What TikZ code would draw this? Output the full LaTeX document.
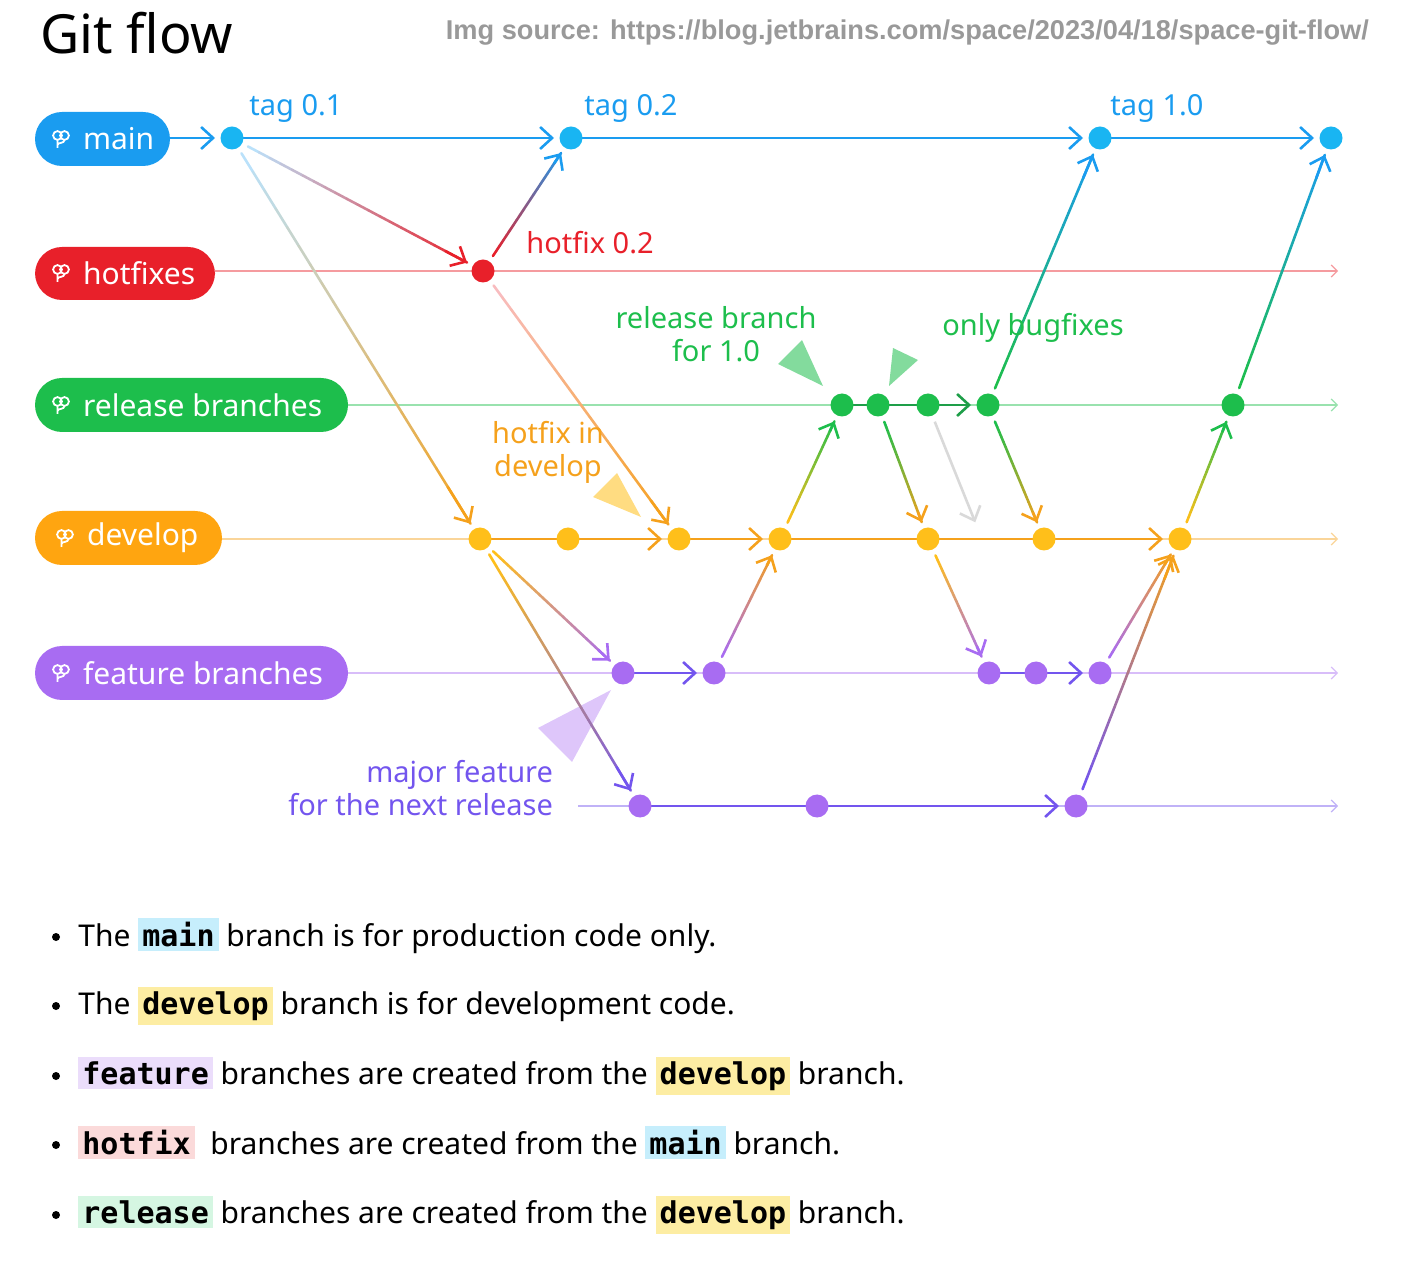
\documentclass[tikz,border=0pt]{standalone}
\usepackage{fontspec}
\setmainfont{Noto Sans}
\newfontfamily\monof{DejaVu Sans Mono}
\newfontfamily\srcf{Liberation Sans}
\usetikzlibrary{arrows.meta,calc}
\definecolor{cblue}{HTML}{1A9CF0}
\definecolor{cdot}{HTML}{19B5F2}
\definecolor{cred}{HTML}{E8202A}
\definecolor{cgreen}{HTML}{1DBE4C}
\definecolor{cdgreen}{HTML}{1E9E48}
\definecolor{corange}{HTML}{F5A11C}
\definecolor{cyel}{HTML}{FFBF1A}
\definecolor{cpurp}{HTML}{A86CF2}
\definecolor{cviol}{HTML}{7355EE}
\definecolor{hlblue}{HTML}{C6EEFC}
\definecolor{hlyel}{HTML}{FDEDA3}
\definecolor{hlpur}{HTML}{EBDDFB}
\definecolor{hlred}{HTML}{FBDADA}
\definecolor{hlgrn}{HTML}{D5F6E2}
\tikzset{
 tip/.style={-{Straight Barb[length=6pt,width=11pt,line width=1.3pt]}},
 dot/.style={circle,fill=#1,inner sep=0pt,minimum size=11.5pt},
 lane/.style={#1!45,line width=0.6pt,-{Straight Barb[length=3pt,width=6pt]}},
 hl/.style={#1,line width=1.3pt},
 lab/.style={font=\fontsize{14.5}{16.5}\selectfont,align=center,text=#1},
 pilltext/.style={anchor=west,text=white,font=\fontsize{15}{15}\selectfont},
 wedge/.style={fill=#1,opacity=0.55},
}
\newcommand\grad[4]{%
 \colorlet{ga}{#1}\colorlet{gb}{#2}%
 \path ($(#3)!9pt!(#4)$) coordinate (gs) ($(#4)!9pt!(#3)$) coordinate (ge);
 \foreach \i in {0,...,19}{\pgfmathtruncatemacro\p{100-\i*5}
  \draw[ga!\p!gb,line width=1.3pt,line cap=round] ($(gs)!\i/20!(ge)$) -- ($(gs)!{(\i+1)/20}!(ge)$);}
 \draw[tip,gb,line width=1.3pt] ($(gs)!0.9!(ge)$) -- (ge);}
\newcommand\harr[3]{\draw[hl=#1,tip] (#2) -- ($(#3)!8.5pt!(#2)$);}
\newcommand\icon[1]{\begin{scope}[shift={(#1)},white,line width=0.9pt]
 \draw (-3.5,-3.5) circle (2.2pt) (3.5,-3.5) circle (2.2pt);
 \draw (-3.5,0.8) -- (-3.5,9) (3.5,0.8) .. controls (3.5,5) and (-3.5,3) .. (-3.5,6);
 \end{scope}}
\begin{document}
\begin{tikzpicture}[x=0.5pt,y=-0.5pt]
\useasboundingbox (0,0) rectangle (1410,1262);
\node[anchor=west,font=\fontsize{27}{27}\selectfont] (title) at (33,33) {Git flow};
\node[anchor=east,font=\srcf\bfseries\fontsize{13.6}{14}\selectfont,text=black!40] (src) at (1376,33) {Img source: https://blog.jetbrains.com/space/2023/04/18/space-git-flow/};
% pills
\fill[cblue,rounded corners=13.5pt] (35,112) rectangle (170,166); \node[pilltext] (pmain) at (76,139) {main};
\fill[cred,rounded corners=13.5pt] (35,247) rectangle (215,300); \node[pilltext] (phot) at (76,273) {hotfixes};
\fill[cgreen,rounded corners=13.5pt] (35,378) rectangle (348,432); \node[pilltext] (prel) at (76,405) {release branches};
\fill[cyel!60!orange,rounded corners=13.5pt] (35,511) rectangle (222,565); \node[pilltext] (pdev) at (80,538) {develop};
\fill[cpurp,rounded corners=13.5pt] (35,646) rectangle (348,700); \node[pilltext] (pfeat) at (76,673) {feature branches};
\icon{61,139}\icon{61,273}\icon{61,405}\icon{65,538}\icon{61,673}
\coordinate (pm) at (170,138); \coordinate (ph) at (215,271); \coordinate (pr) at (348,405);
\coordinate (pd) at (222,539); \coordinate (pf) at (348,673); \coordinate (pj) at (578,806);
\coordinate (eh) at (1338,271); \coordinate (er) at (1338,405); \coordinate (ed) at (1338,539);
\coordinate (ef) at (1338,673); \coordinate (ej) at (1338,806);
% thin lanes
\draw[lane=cred] (ph) -- (eh);
\draw[lane=cgreen] (pr) -- (er);
\draw[lane=corange] (pd) -- (ed);
\draw[lane=cpurp] (pf) -- (ef);
\draw[lane=cviol] (pj) -- (ej);
% commits coordinates
\coordinate (m1) at (232,138); \coordinate (m2) at (571,138); \coordinate (m3) at (1100,138); \coordinate (m4) at (1331,138);
\coordinate (h1) at (483,271);
\coordinate (r1) at (842,405); \coordinate (r2) at (878,405); \coordinate (r3) at (928,405); \coordinate (r4) at (988,405); \coordinate (r5) at (1233,405);
\coordinate (d1) at (480,539); \coordinate (d2) at (568,539); \coordinate (d3) at (679,539); \coordinate (d4) at (780,539); \coordinate (d5) at (928,539); \coordinate (d6) at (1044,539); \coordinate (d7) at (1180,539);
\coordinate (gx) at (982,539);
\coordinate (f1) at (623,673); \coordinate (f2) at (714,673); \coordinate (f3) at (989,673); \coordinate (f4) at (1036,673); \coordinate (f5) at (1100,673);
\coordinate (j1) at (640,806); \coordinate (j2) at (817,806); \coordinate (j3) at (1076,806);
% wedges
\fill[wedge=cgreen] (778,364) -- (802,340) -- (823,386) -- cycle;
\fill[wedge=cgreen] (893,348) -- (918,360) -- (889,386) -- cycle;
\fill[wedge=cyel] (593,497) -- (617,473) -- (641,517) -- cycle;
\fill[wedge=cpurp!70] (538,728) -- (572,762) -- (611,690) -- cycle;
% horizontal
\draw[hl=cblue,tip] (pm) -- ($(m1)!8.5pt!(pm)$);
\harr{cblue}{m1}{m2}\harr{cblue}{m2}{m3}\harr{cblue}{m3}{m4}
\draw[hl=cdgreen] (r1) -- (r3); \harr{cdgreen}{r3}{r4}
\draw[hl=corange] (d1) -- (d2); \harr{corange}{d2}{d3}\harr{corange}{d3}{d4}
\draw[hl=corange] (d4) -- (d6); \harr{corange}{d6}{d7}
\harr{cviol}{f1}{f2}
\draw[hl=cviol] (f3) -- (f4); \harr{cviol}{f4}{f5}
\harr{cviol}{j2}{j3}\draw[hl=cviol] (j1) -- (j2);
% diagonals
\grad{cblue!30}{cred}{m1}{h1}
\grad{cblue!30}{corange}{m1}{d1}
\grad{cred}{cblue}{h1}{m2}
\grad{cred!30}{corange}{h1}{d3}
\grad{cyel}{cpurp}{d1}{f1}
\grad{cyel}{cviol}{d1}{j1}
\grad{cpurp}{corange}{f2}{d4}
\grad{cyel}{cgreen}{d4}{r1}
\grad{cgreen}{corange}{r2}{d5}
\draw[black!15,line width=1.3pt,tip] ($(r3)!9pt!(gx)$) -- ($(gx)!9pt!(r3)$);
\grad{cgreen}{cblue}{r4}{m3}
\grad{cgreen}{corange}{r4}{d6}
\grad{cyel}{cpurp}{d5}{f3}
\grad{cpurp}{corange}{f5}{d7}
\grad{cviol}{corange}{j3}{d7}
\grad{cyel}{cgreen}{d7}{r5}
\grad{cgreen}{cblue}{r5}{m4}
% dots
\foreach \c in {m1,m2,m3,m4} \node[dot=cdot] at (\c) {};
\node[dot=cred] at (h1) {};
\foreach \c in {r1,r2,r3,r4,r5} \node[dot=cgreen] at (\c) {};
\foreach \c in {d1,d2,d3,d4,d5,d6,d7} \node[dot=cyel] at (\c) {};
\foreach \c in {f1,f2,f3,f4,f5} \node[dot=cpurp] at (\c) {};
\foreach \c in {j1,j2,j3} \node[dot=cpurp] at (\c) {};
% labels
\node[lab=cblue] (t1) at (296,108) {tag 0.1};
\node[lab=cblue] (t2) at (631,108) {tag 0.2};
\node[lab=cblue] (t3) at (1157,108) {tag 1.0};
\node[lab=cred] (lh) at (590,243) {hotfix 0.2};
\node[lab=cgreen] (lr) at (716,334) {release branch\\for 1.0};
\node[lab=cgreen] (lb) at (1033,328) {only bugfixes};
\node[lab=corange] (ld) at (548,452) {hotfix in\\develop};
\node[lab=cviol,align=right,anchor=east] (lj) at (560,788) {major feature\\for the next release};
% bullets
\setlength\fboxsep{2pt}
\newcommand\cd[2]{\colorbox{#1}{\monof\bfseries #2}}
\foreach \y/\t in {937/{The \cd{hlblue}{main} branch is for production code only.},
 1006/{The \cd{hlyel}{develop} branch is for development code.},
 1076/{\cd{hlpur}{feature} branches are created from the \cd{hlyel}{develop} branch.},
 1145/{\cd{hlred}{hotfix}\ \ branches are created from the \cd{hlblue}{main} branch.},
 1215/{\cd{hlgrn}{release} branches are created from the \cd{hlyel}{develop} branch.}}{
 \fill (56,\y) circle (2pt);
 \node[anchor=west,inner sep=0pt,font=\fontsize{15}{17}\selectfont] at (78,\y) {\strut\t};
}
\end{tikzpicture}
\end{document}
